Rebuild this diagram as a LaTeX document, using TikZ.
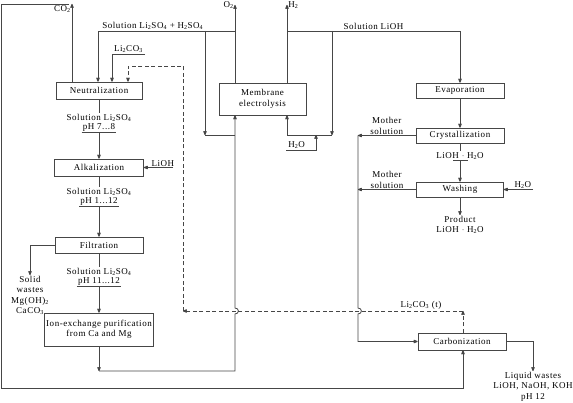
\documentclass[tikz,border=0pt]{standalone}
\usepackage{fontspec}
\setmainfont{Liberation Serif}[LetterSpace=6]
\usepackage{tikz}
\usetikzlibrary{arrows.meta,calc}
\definecolor{FlowGray}{RGB}{70,70,70}
\newcommand{\sbs}[1]{\textsubscript{#1}}

\begin{document}
\begin{tikzpicture}[x=1pt, y=1pt, font=\fontsize{9}{10.5}\selectfont,
  >={Stealth[length=5.5pt, width=4.2pt, inset=1pt, line width=1.3pt, round, fill=black]},
  proc/.style={draw=FlowGray, line width=0.8pt, align=center, inner sep=1pt},
  flow/.style={draw=FlowGray, line width=0.8pt},
  arr/.style={flow, ->},
  recyc/.style={arr, dash pattern=on 4pt off 2.5pt},
  lbl/.style={inner sep=1pt, align=center}]
  \useasboundingbox (0,-403) rectangle (573,0);

  % Process blocks, left column (sulphate solution)
  \node[proc, minimum width=86, minimum height=17] (neut) at (99,-90.5) {Neutralization};
  \node[proc, minimum width=89, minimum height=17] (alk) at (99,-167.5) {Alkalization};
  \node[proc, minimum width=88, minimum height=16] (filt) at (99,-245) {Filtration};
  \node[proc, minimum width=109, minimum height=33] (ionex) at (99,-329.5) {Ion-exchange purification\\from Ca and Mg};

  % Electrolysis and LiOH branch
  \node[proc, minimum width=87, minimum height=32] (memb) at (262.5,-99) {Membrane\\electrolysis};
  \node[proc, minimum width=88, minimum height=15] (evap) at (460,-90.5) {Evaporation};
  \node[proc, minimum width=88, minimum height=15] (cryst) at (460,-135.5) {Crystallization};
  \node[proc, minimum width=87, minimum height=15] (wash) at (460,-189.5) {Washing};
  \node[proc, minimum width=88, minimum height=17] (carb) at (462,-341.5) {Carbonization};

  % Key points of the connectors
  \coordinate (co2tip) at (72,-4);
  \coordinate (ltop) at (1,-4);
  \coordinate (lbot) at (1,-388);
  \coordinate (o2tip) at (235,-5);
  \coordinate (h2tip) at (287,-5);
  \coordinate (anol) at (235,-31);
  \coordinate (anl) at (98,-31);
  \coordinate (anbr) at (205,-31);
  \coordinate (anret) at (205,-135);
  \coordinate (cath) at (287,-31);
  \coordinate (catbr) at (332,-31);
  \coordinate (catret) at (332,-135);
  \coordinate (h2oin) at (286,-150);
  \coordinate (h2oj) at (316,-135);
  \coordinate (lic) at (145,-54);
  \coordinate (lic2) at (112,-54);
  \coordinate (ionout) at (99,-371);
  \coordinate (hopA) at (235,-311);
  \coordinate (hopB) at (358,-311);
  \coordinate (dc1) at (463,-311);
  \coordinate (dc2) at (183,-311);
  \coordinate (dc3) at (183,-66);
  \coordinate (dc4) at (128,-66);
  \coordinate (liohin) at (173,-167.5);
  \coordinate (h2ow) at (533,-189.5);

  % Stream labels between blocks
  \node[lbl] (s1) at (99,-118) {Solution Li\sbs{2}SO\sbs{4}};
  \node[lbl] (p1) at (99,-127.5) {pH 7...8};
  \node[lbl] (s2) at (99,-192) {Solution Li\sbs{2}SO\sbs{4}};
  \node[lbl] (p2) at (99,-201.5) {pH 1...12};
  \node[lbl] (s3) at (99,-272) {Solution Li\sbs{2}SO\sbs{4}};
  \node[lbl] (p3) at (99,-281.5) {pH 11...12};
  \node[lbl] (lw1) at (460,-156) {LiOH $\cdot$ H\sbs{2}O};
  \node[lbl, anchor=north] (solid) at (30,-275) {Solid\\wastes\\Mg(OH)\sbs{2}\\CaCO\sbs{3}};
  \node[lbl, anchor=north] (prod) at (460,-215) {Product\\LiOH $\cdot$ H\sbs{2}O};
  \node[lbl, anchor=north] (liqw) at (533,-371) {Liquid wastes\\LiOH, NaOH, KOH\\pH 12};

  % Main line of the sulphate solution
  \draw[flow] (neut) -- (s1);
  \draw[flow] (p1.south west) -- (p1.south east);
  \draw[arr] (p1) -- (alk);
  \draw[flow] (alk) -- (s2);
  \draw[flow] (p2.south west) -- (p2.south east);
  \draw[arr] (p2) -- (filt);
  \draw[flow] (filt) -- (s3);
  \draw[flow] (p3.south west) -- (p3.south east);
  \draw[arr] (p3) -- (ionex);
  \draw[arr] (filt.west) -| (solid.north);
  \draw[arr] (liohin) -- node[lbl, above, pos=0.35] (liohlbl) {LiOH} (alk.east);

  % Feeds of the neutralization
  \draw[arr] (neut.north -| co2tip) -- (co2tip) node[lbl, below left] (co2lbl) {CO\sbs{2}};
  \draw[arr] (lic) -- node[lbl, above] (liclbl) {Li\sbs{2}CO\sbs{3}} (lic2) -- (neut.north -| lic2);
  \draw[arr] (anol) -- node[lbl, above, pos=0.6] (anlbl) {Solution Li\sbs{2}SO\sbs{4} + H\sbs{2}SO\sbs{4}} (anl) -- (neut.north -| anl);

  % Electrolysis: anode and cathode loops
  \draw[arr] (memb.north -| anol) -- (o2tip) node[lbl, left] (o2lbl) {O\sbs{2}};
  \draw[arr] (memb.north -| cath) -- (h2tip) node[lbl, right] (h2lbl) {H\sbs{2}};
  \draw[arr] (anbr) -- (anret);
  \draw[flow] (anret) -- (anret -| hopA);
  \draw[arr] (ionex) -- (ionout);
  \draw[arr] (ionout) -| ($(hopA)+(0,-3)$) .. controls ($(hopA)+(4.5,-3)$) and ($(hopA)+(4.5,3)$) .. ($(hopA)+(0,3)$) -- (memb.south -| hopA);
  \draw[arr] (cath) -- node[lbl, above, pos=0.5] (catlbl) {Solution LiOH} (cath -| evap) -- (evap);
  \draw[arr] (catbr) -- (catret);
  \draw[arr] (catret) -| (memb.south -| cath);
  \draw[arr] (h2oin) -- node[lbl, above, pos=0.35] (h2olbl) {H\sbs{2}O} (h2oin -| h2oj) -- (h2oj);

  % LiOH crystallization line
  \draw[arr] (evap) -- (cryst);
  \draw[flow] (cryst) -- (lw1);
  \draw[flow] ([xshift=-7pt]lw1.south) -- ([xshift=8pt]lw1.south);
  \draw[arr] (lw1) -- (wash);
  \draw[arr] (wash) -- (prod);
  \draw[arr] (h2ow) -- node[lbl, above, pos=0.35] (h2owlbl) {H\sbs{2}O} (wash.east);
  \draw[arr] (cryst.west) -- node[lbl, above] (m1lbl) {Mother\\solution} (cryst.west -| hopB);
  \draw[arr] (wash.west) -- node[lbl, above] (m2lbl) {Mother\\solution} (wash.west -| hopB);
  \draw[arr] (cryst.west -| hopB) -- ($(hopB)+(0,3)$) .. controls ($(hopB)+(4.5,3)$) and ($(hopB)+(4.5,-3)$) .. ($(hopB)+(0,-3)$) |- (carb.west);

  % Carbonization: CO2 loop, wastes and carbonate return
  \draw[arr] ([xshift=-3pt]co2tip) -- (ltop) -- (lbot) -| (carb.south -| dc1);
  \draw[arr] (carb.east) -| (liqw.north);
  \draw[recyc] (carb.north -| dc1) -- (dc1);
  \draw[recyc] (dc1) -- node[lbl, above, pos=0.15] (dclbl) {Li\sbs{2}CO\sbs{3} (t)} (dc2);
  \draw[recyc] (dc2) -- (dc3) -- (dc4) -- (neut.north -| dc4);
\end{tikzpicture}
\end{document}
